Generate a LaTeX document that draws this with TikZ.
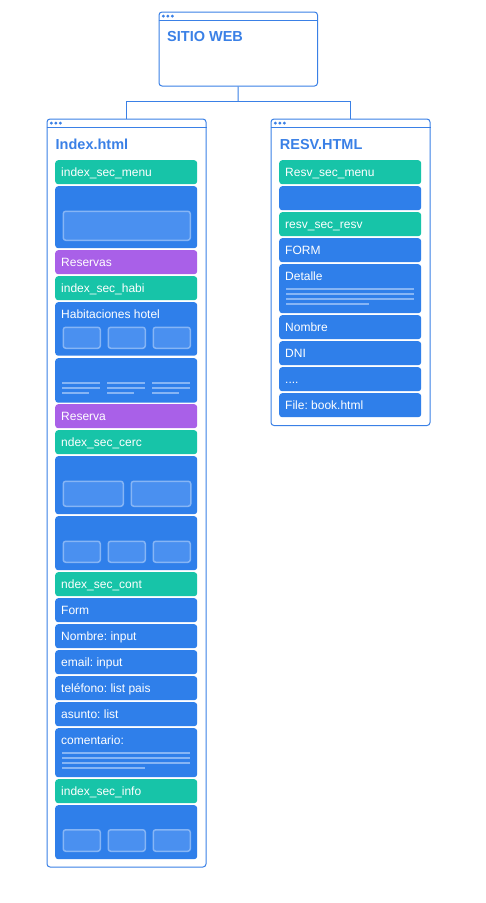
\documentclass[tikz,border=0pt]{standalone}
\usepackage{fontspec}
\setmainfont{Liberation Sans}
\frenchspacing
\definecolor{frameblue}{HTML}{3A80E6}
\definecolor{rowblue}{HTML}{2F7FEA}
\definecolor{rowgreen}{HTML}{17C4A8}
\definecolor{rowpurple}{HTML}{A960E8}
\definecolor{innerfill}{HTML}{4A90F0}
\definecolor{innerline}{HTML}{86B5F5}
\tikzset{
  pageframe/.style={draw=frameblue, line width=1pt, rounded corners=3pt, fill=white, anchor=north west, inner sep=0pt, minimum width=159pt},
  rowbase/.style={rounded corners=3pt, anchor=north west, inner sep=0pt, minimum width=142pt, minimum height=24pt},
  rowb/.style={rowbase, fill=rowblue},
  rowg/.style={rowbase, fill=rowgreen},
  rowp/.style={rowbase, fill=rowpurple},
  lbl/.style={text=white, font=\fontsize{12}{14}\selectfont, anchor=base west, inner sep=0pt},
  ttl/.style={text=frameblue, font=\bfseries\fontsize{14.5}{17}\selectfont, anchor=base west, inner sep=0pt},
  inbox/.style={fill=innerfill, draw=innerline, line width=1.5pt, rounded corners=2.5pt, anchor=north west, inner sep=0pt},
  dline/.style={draw=innerline, line width=2pt},
  conn/.style={draw=frameblue, line width=1pt},
  dot/.style={fill=frameblue, draw=none}
}
\newcommand{\mkrow}[5]{% name, style, x, y, height
  \node[#2, minimum height=#5pt] (#1) at (#3,#4) {};}
\newcommand{\mklbl}[2]{% row name, text
  \node[lbl] (#1-t) at ([xshift=6pt,yshift=-16.5pt]#1.north west) {#2};}
\newcommand{\mkdots}[1]{%
  \fill[dot] ([xshift=4.8pt,yshift=-4.6pt]#1.north west) circle (1.6pt);
  \fill[dot] ([xshift=9.3pt,yshift=-4.6pt]#1.north west) circle (1.6pt);
  \fill[dot] ([xshift=13.8pt,yshift=-4.6pt]#1.north west) circle (1.6pt);
  \draw[conn] ([yshift=-9pt]#1.north west) -- ([yshift=-9pt]#1.north east);}
\begin{document}
\begin{tikzpicture}[x=1pt,y=-1pt]
\useasboundingbox[fill=white] (0,0) rectangle (485,903);

% frames
\node[pageframe, minimum width=158.5pt, minimum height=74pt] (web) at (158.5,11.5) {};
\node[pageframe, minimum height=748pt] (idx) at (46.5,118.5) {};
\node[pageframe, minimum height=306.5pt] (resv) at (270.5,118.5) {};
\mkdots{web}\mkdots{idx}\mkdots{resv}

\node[ttl] (web-t) at (167,41.7) {SITIO WEB};
\node[ttl] (idx-t) at (55.5,149.3) {Index.html};
\node[ttl] (resv-t) at (279.7,149.3) {RESV.HTML};

% connectors
\coordinate (jun) at (238,101);
\draw[conn] (web.south) -- (jun);
\draw[conn] (jun) -| (idx.north);
\draw[conn] (jun) -| (resv.north);

% ---- left column ----
\mkrow{l1}{rowg}{55}{160}{24} \mklbl{l1}{index\_sec\_menu}
\mkrow{l2}{rowb}{55}{186}{62}
\node[inbox, minimum width=127pt, minimum height=29pt] (l2a) at (62.5,210.5) {};
\mkrow{l3}{rowp}{55}{250}{24} \mklbl{l3}{Reservas}
\mkrow{l4}{rowg}{55}{276}{24} \mklbl{l4}{index\_sec\_habi}
\mkrow{l5}{rowb}{55}{302}{53.5} \mklbl{l5}{Habitaciones hotel}
\node[inbox, minimum width=37pt, minimum height=21pt] (l5a) at (62.5,326.5) {};
\node[inbox, minimum width=37pt, minimum height=21pt] (l5b) at (107.5,326.5) {};
\node[inbox, minimum width=37pt, minimum height=21pt] (l5c) at (152.5,326.5) {};
\mkrow{l6}{rowb}{55}{358}{44.5}
\foreach \xa/\xb/\xc in {62/100/89, 107/145/134, 152/190/179}{
  \draw[dline] (\xa,382.5) -- (\xb,382.5);
  \draw[dline] (\xa,387.5) -- (\xb,387.5);
  \draw[dline] (\xa,392.5) -- (\xc,392.5);
}
\mkrow{l7}{rowp}{55}{404}{24} \mklbl{l7}{Reserva}
\mkrow{l8}{rowg}{55}{430}{24} \mklbl{l8}{ndex\_sec\_cerc}
\mkrow{l9}{rowb}{55}{456}{58}
\node[inbox, minimum width=60pt, minimum height=25pt] (l9a) at (62.5,480.5) {};
\node[inbox, minimum width=59.5pt, minimum height=25pt] (l9b) at (130.5,480.5) {};
\mkrow{l10}{rowb}{55}{516}{54}
\node[inbox, minimum width=37pt, minimum height=21pt] (l10a) at (62.5,540.5) {};
\node[inbox, minimum width=37pt, minimum height=21pt] (l10b) at (107.5,540.5) {};
\node[inbox, minimum width=37pt, minimum height=21pt] (l10c) at (152.5,540.5) {};
\mkrow{l11}{rowg}{55}{572}{24} \mklbl{l11}{ndex\_sec\_cont}
\mkrow{l12}{rowb}{55}{598}{24} \mklbl{l12}{Form}
\mkrow{l13}{rowb}{55}{624}{24} \mklbl{l13}{Nombre: input}
\mkrow{l14}{rowb}{55}{650}{24} \mklbl{l14}{email: input}
\mkrow{l15}{rowb}{55}{676}{24} \mklbl{l15}{teléfono: list pais}
\mkrow{l16}{rowb}{55}{702}{24} \mklbl{l16}{asunto: list}
\mkrow{l17}{rowb}{55}{728}{49} \mklbl{l17}{comentario:}
\draw[dline] (62,752.5) -- (190,752.5);
\draw[dline] (62,757.5) -- (190,757.5);
\draw[dline] (62,762.5) -- (190,762.5);
\draw[dline] (62,767.5) -- (145,767.5);
\mkrow{l18}{rowg}{55}{779}{24} \mklbl{l18}{index\_sec\_info}
\mkrow{l19}{rowb}{55}{805}{54}
\node[inbox, minimum width=37pt, minimum height=21.5pt] (l19a) at (62.5,829) {};
\node[inbox, minimum width=37pt, minimum height=21.5pt] (l19b) at (107.5,829) {};
\node[inbox, minimum width=37pt, minimum height=21.5pt] (l19c) at (152.5,829) {};

% ---- right column ----
\mkrow{r1}{rowg}{279}{160}{24} \mklbl{r1}{Resv\_sec\_menu}
\mkrow{r2}{rowb}{279}{186}{24}
\mkrow{r3}{rowg}{279}{212}{24} \mklbl{r3}{resv\_sec\_resv}
\mkrow{r4}{rowb}{279}{238}{24} \mklbl{r4}{FORM}
\mkrow{r5}{rowb}{279}{264}{49} \mklbl{r5}{Detalle}
\draw[dline] (286,288.5) -- (414,288.5);
\draw[dline] (286,293.5) -- (414,293.5);
\draw[dline] (286,298.5) -- (414,298.5);
\draw[dline] (286,303.5) -- (369,303.5);
\mkrow{r6}{rowb}{279}{315}{24} \mklbl{r6}{Nombre}
\mkrow{r7}{rowb}{279}{341}{24} \mklbl{r7}{DNI}
\mkrow{r8}{rowb}{279}{367}{24} \mklbl{r8}{....}
\mkrow{r9}{rowb}{279}{393}{24} \mklbl{r9}{File: book.html}
\end{tikzpicture}
\end{document}
